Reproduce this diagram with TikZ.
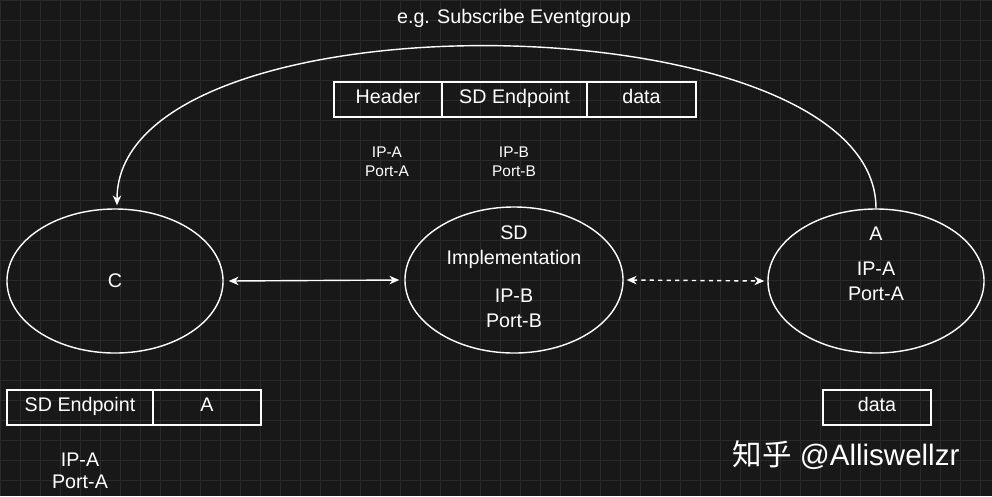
\documentclass[tikz,border=0pt]{standalone}
\usepackage{fontspec}
\setmainfont{Liberation Sans}
\newfontfamily\cjk{Noto Sans CJK SC}
\usetikzlibrary{arrows.meta,shapes.geometric,calc}
\definecolor{bg}{HTML}{181818}
\definecolor{gridc}{HTML}{2A2A2A}
\begin{document}
\begin{tikzpicture}[x=0.025cm,y=-0.025cm,
  every node/.style={text=white,font=\fontsize{14}{16}\selectfont},
  ell/.style={draw=white,line width=1pt,ellipse,inner sep=0pt},
  box/.style={draw=white,line width=1pt,minimum height=0.875cm,inner sep=0pt,text height=1.5ex,text depth=0.35ex},
  small/.style={font=\fontsize{11}{13.5}\selectfont,align=center},
  conn/.style={draw=white,line width=1pt,{Stealth[length=7pt,width=6pt]}-{Stealth[length=7pt,width=6pt]}}]
\fill[bg] (0,0) rectangle (992,496);
\useasboundingbox (0,0) rectangle (992,496);
\draw[gridc,line width=0.4pt,step=0.5cm] (0,0) grid (992,496);
% ellipses
\node[ell,minimum width=5.4cm,minimum height=3.6cm] (c) at (115,281) {C};
\node[ell,minimum width=5.45cm,minimum height=3.65cm] (sd) at (514,280) {};
\node (sd1) at (514,233) {SD};
\node (sd2) at (514,259) {Implementation};
\node (sd3) at (514,296) {IP-B};
\node (sd4) at (514,321) {Port-B};
\node[ell,minimum width=5.4cm,minimum height=3.6cm] (a) at (876,281) {};
\node (a1) at (876,234) {A};
\node (a2) at (876,269) {IP-A};
\node (a3) at (876,294) {Port-A};
% connectors
\draw[conn] ($(c.east)+(5,0)$) -- ($(sd.west)+(-5,0)$);
\draw[conn,dash pattern=on 3pt off 3pt] ($(sd.east)+(3,0)$) -- ($(a.west)+(-3,0)$);
\draw[white,line width=1pt,-{Stealth[length=7pt,width=6pt]}] (a.north) .. controls (876,-2) and (117,-12) .. ($(c.north)+(2,-3)$);
\node (lbl) at (514,18) {e.g. Subscribe Eventgroup};
% top table
\node[box,minimum width=2.7cm] (h1) at (388,99.5) {Header};
\node[box,minimum width=3.625cm] (h2) at (514.5,99.5) {SD Endpoint};
\node[box,minimum width=2.725cm] (h3) at (641.5,99.5) {data};
\node[small] (t1) at (387,162) {IP-A\\Port-A};
\node[small] (t2) at (514,162) {IP-B\\Port-B};
% bottom left table
\node[box,minimum width=3.65cm] (b1) at (80,407.5) {SD Endpoint};
\node[box,minimum width=2.7cm] (b2) at (207,407.5) {A};
\node[align=center] (b3) at (80,471) {IP-A\\Port-A};
% data box
\node[box,minimum width=2.7cm] (d) at (877,407.5) {data};
\node[font=\fontsize{21}{24}\selectfont] (wm) at (846,455) {{\cjk 知乎} @Alliswellzr};
\end{tikzpicture}
\end{document}
